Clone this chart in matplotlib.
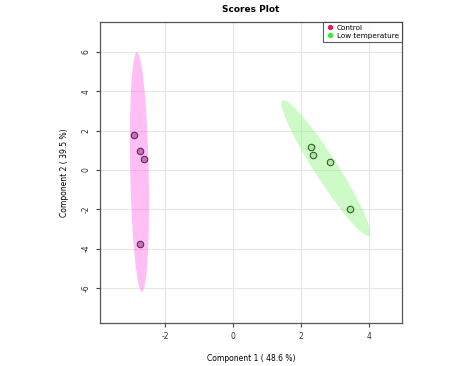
import numpy as np
import matplotlib
matplotlib.use('Agg')
import matplotlib.pyplot as plt
from matplotlib.patches import Ellipse
from matplotlib.lines import Line2D

plt.rcParams['axes.unicode_minus'] = False

# PCA scores
control_x = [-2.90, -2.74, -2.62, -2.74]
control_y = [1.80, 0.96, 0.58, -3.75]
lowtemp_x = [2.29, 2.35, 2.85, 3.44]
lowtemp_y = [1.18, 0.75, 0.42, -1.97]

groups = ['Control', 'Low temperature']
legend_cols = ['#e8175d', '#33ee33']
fill_cols = ['#ff66e6', '#8cf57a']
point_cols = ['#d864c8', '#a8eb98']

x_ticks = [-2, 0, 2, 4]
y_ticks = [-6, -4, -2, 0, 2, 4, 6]


def conf_ellipse(xs, ys, color):
    pts = np.column_stack([xs, ys])
    cov = np.cov(pts, rowvar=False)
    vals, vecs = np.linalg.eigh(cov)
    order = vals.argsort()[::-1]
    vals, vecs = vals[order], vecs[:, order]
    scale = np.sqrt(5.991)  # 95% chi2, 2 dof
    angle = np.degrees(np.arctan2(vecs[1, 0], vecs[0, 0]))
    w, h = 2 * scale * np.sqrt(vals)
    return Ellipse(pts.mean(axis=0), w, h, angle=angle, facecolor=color,
                   edgecolor='none', alpha=0.42, zorder=1)


fig = plt.figure(figsize=(4.74, 3.66), dpi=100)
ax = fig.add_axes([0.211, 0.1175, 0.637, 0.8225])

ax.add_patch(conf_ellipse(control_x, control_y, fill_cols[0]))
ax.add_patch(conf_ellipse(lowtemp_x, lowtemp_y, fill_cols[1]))

ax.scatter(control_x, control_y, s=22, c=point_cols[0], edgecolors='#333333',
           linewidths=0.7, zorder=3)
ax.scatter(lowtemp_x, lowtemp_y, s=22, c=point_cols[1], edgecolors='#2a4a2a',
           linewidths=0.7, zorder=3)

ax.set_xlim(-3.91, 4.97)
ax.set_ylim(-7.78, 7.52)
ax.set_xticks(x_ticks)
ax.set_yticks(y_ticks)
ax.grid(True, color='#e6e6e6', linewidth=0.8, zorder=0)
ax.set_axisbelow(True)
for s in ax.spines.values():
    s.set_color('#555555')
    s.set_linewidth(0.9)
ax.tick_params(labelsize=5.5, color='#444444', length=3, width=0.8,
               labelcolor='#333333')
for lab in ax.get_yticklabels():
    lab.set_rotation(90)
    lab.set_va('center')

ax.set_title('Scores Plot', fontsize=6.5, fontweight='bold', pad=7)
ax.set_xlabel('Component 1 ( 48.6 %)', fontsize=5.5, labelpad=9)
ax.set_ylabel('Component 2 ( 39.5 %)', fontsize=5.5, labelpad=9)

handles = [Line2D([], [], marker='o', color=legend_cols[i], linestyle='None',
                  markersize=2.8, label=groups[i]) for i in range(2)]
leg = ax.legend(handles=handles, loc='upper right', fontsize=5.2, frameon=True,
                fancybox=False, borderaxespad=0, handletextpad=0.3,
                handlelength=1.2, labelspacing=0.25, borderpad=0.4)
leg.get_frame().set_edgecolor('#333333')
leg.get_frame().set_linewidth(0.8)

fig.savefig('out.png', dpi=100)
